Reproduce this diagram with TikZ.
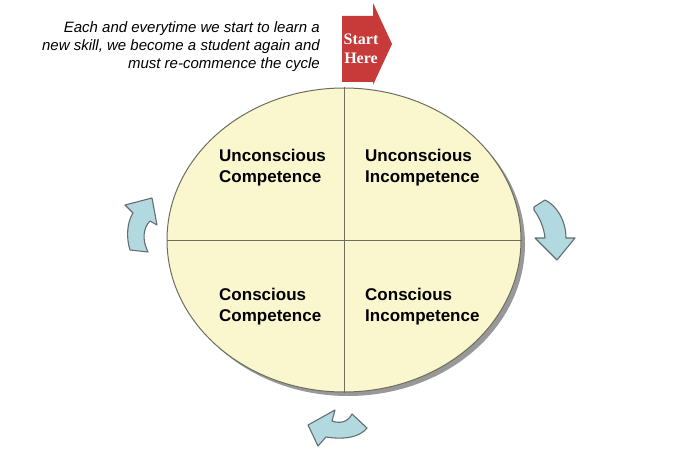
\documentclass[tikz,border=0pt]{standalone}
\usepackage{fontspec}
\setmainfont{Liberation Serif}
\setsansfont{Liberation Sans}
\usetikzlibrary{shapes.geometric,shadows}
\definecolor{cream}{RGB}{250,246,206}
\definecolor{rimgray}{RGB}{110,110,95}
\definecolor{startred}{RGB}{200,58,58}
\definecolor{turnblue}{RGB}{178,216,224}
\definecolor{turnline}{RGB}{100,110,112}
\begin{document}
\begin{tikzpicture}[x=1pt,y=-1pt,
  quad/.style={align=left,anchor=west,inner sep=0pt,font=\sffamily\bfseries\fontsize{17}{21}\selectfont},
  turn/.style={fill=turnblue,draw=turnline,line width=1.1pt,line join=round}]
\useasboundingbox (0,0) rectangle (685,476);
% the cycle
\node[ellipse,draw=rimgray,fill=cream,line width=1pt,minimum width=354pt,minimum height=304pt,inner sep=0pt,
  drop shadow={shadow xshift=4pt,shadow yshift=-4pt,opacity=0.7,fill=gray!85!black}] (cycle) at (344,240) {};
\draw[rimgray,line width=1pt] (cycle.north) -- (cycle.south);
\draw[rimgray,line width=1pt] (cycle.west) -- (cycle.east);
\node[quad] (uc) at (219,168) {Unconscious\\Competence};
\node[quad] (ui) at (365,168) {Unconscious\\Incompetence};
\node[quad] (cc) at (219,307) {Conscious\\Competence};
\node[quad] (ci) at (365,307) {Conscious\\Incompetence};
% start here
\fill[startred] (342,16) -- (373,16) -- (373,3) -- (392,44) -- (373,85) -- (373,82) -- (342,82) -- cycle;
\node[text=white,font=\rmfamily\bfseries\fontsize{16}{19}\selectfont,align=center,inner sep=0pt] (start) at (361,49) {Start\\Here};
\node[align=right,anchor=east,inner sep=0pt,font=\sffamily\itshape\fontsize{15}{18}\selectfont] (note) at (320,47)
  {Each and everytime we start to learn a\\new skill, we become a student again and\\must re-commence the cycle};
% turning arrows
\draw[turn] (534,207) -- (545,200) .. controls (556,205) and (566,220) .. (566,238) -- (575,238) -- (557,260)
  -- (535,238) -- (545,238) .. controls (544,228) and (540,218) .. (534,210) -- cycle;
\draw[turn] (318,446) -- (308,425) -- (335,410) -- (332,421) .. controls (340,424) and (348,422) .. (352,414)
  -- (367,428) .. controls (360,437) and (345,440) .. (326,437) -- cycle;
\draw[turn] (130,250) .. controls (126,238) and (127,222) .. (133,213) -- (125,205) -- (152,198) -- (157,225)
  -- (150,221) .. controls (143,228) and (142,240) .. (148,252) -- cycle;
\end{tikzpicture}
\end{document}
